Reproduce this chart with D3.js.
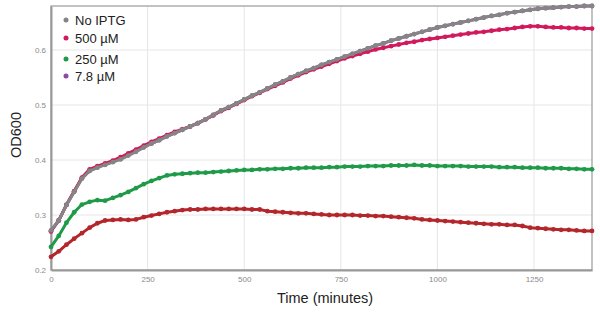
<!DOCTYPE html>
<html>
<head>
<meta charset="utf-8">
<script src="https://cdn.jsdelivr.net/npm/d3@7"></script>
<style>
  body { margin: 0; background: #fff; }
  text { font-family: "Liberation Sans", Arial, sans-serif; }
</style>
</head>
<body>
<div id="root"></div>
<script>
// sample times (minutes)
const times = [0,20,40,60,80,100,120,140,160,180,200,220,240,260,280,300,320,340,360,380,
  400,420,440,460,480,500,520,540,560,580,600,620,640,660,680,700,720,740,760,780,
  800,820,840,860,880,900,920,940,960,980,1000,1020,1040,1060,1080,1100,1120,1140,1160,1180,
  1200,1220,1240,1260,1280,1300,1320,1340,1360,1380,1400];

// OD600 readings
const noIptg = [0.272,0.290,0.318,0.342,0.366,0.380,0.386,0.391,0.396,0.401,0.408,0.415,0.423,0.430,0.436,0.443,0.449,0.455,0.461,0.467,
  0.474,0.482,0.490,0.496,0.503,0.510,0.517,0.523,0.530,0.537,0.543,0.550,0.556,0.562,0.567,0.573,0.578,0.583,0.588,0.593,
  0.598,0.603,0.608,0.612,0.617,0.621,0.625,0.629,0.633,0.637,0.641,0.644,0.647,0.650,0.653,0.656,0.659,0.662,0.664,0.667,
  0.669,0.671,0.673,0.675,0.676,0.677,0.678,0.679,0.679,0.680,0.680];
const uM500 = [0.270,0.290,0.318,0.343,0.368,0.383,0.389,0.394,0.399,0.405,0.412,0.419,0.426,0.433,0.439,0.445,0.451,0.456,0.461,0.467,
  0.474,0.481,0.489,0.495,0.502,0.509,0.516,0.522,0.529,0.535,0.541,0.548,0.554,0.560,0.565,0.570,0.575,0.580,0.585,0.589,
  0.593,0.597,0.601,0.604,0.607,0.610,0.613,0.615,0.618,0.620,0.622,0.624,0.626,0.628,0.630,0.632,0.633,0.635,0.637,0.638,
  0.640,0.642,0.643,0.643,0.642,0.641,0.641,0.640,0.640,0.639,0.639];
const uM250 = [0.242,0.262,0.286,0.305,0.319,0.324,0.327,0.326,0.331,0.336,0.342,0.349,0.356,0.362,0.367,0.372,0.374,0.375,0.376,0.377,
  0.377,0.378,0.379,0.380,0.381,0.382,0.382,0.383,0.383,0.384,0.384,0.385,0.385,0.386,0.386,0.386,0.387,0.387,0.388,0.388,
  0.388,0.389,0.389,0.389,0.390,0.390,0.390,0.391,0.390,0.390,0.389,0.389,0.389,0.389,0.388,0.388,0.388,0.388,0.387,0.387,
  0.387,0.386,0.386,0.386,0.385,0.385,0.385,0.384,0.384,0.383,0.383];
const uM7_8 = [0.271,0.290,0.319,0.343,0.367,0.381,0.387,0.392,0.397,0.402,0.409,0.416,0.423,0.430,0.436,0.443,0.449,0.455,0.461,0.467,
  0.474,0.482,0.490,0.496,0.503,0.510,0.517,0.523,0.530,0.537,0.543,0.550,0.556,0.562,0.567,0.573,0.578,0.583,0.588,0.593,
  0.598,0.603,0.608,0.612,0.617,0.621,0.625,0.629,0.633,0.637,0.641,0.644,0.647,0.650,0.653,0.656,0.659,0.662,0.664,0.667,
  0.669,0.671,0.673,0.675,0.676,0.677,0.678,0.679,0.679,0.680,0.680];
const unlabeled = [0.224,0.234,0.246,0.257,0.267,0.277,0.285,0.290,0.291,0.292,0.291,0.292,0.296,0.299,0.302,0.305,0.307,0.309,0.310,0.310,
  0.311,0.311,0.311,0.311,0.311,0.311,0.310,0.310,0.307,0.306,0.305,0.304,0.303,0.303,0.302,0.301,0.300,0.300,0.300,0.300,
  0.299,0.299,0.298,0.298,0.297,0.296,0.295,0.294,0.292,0.291,0.290,0.289,0.288,0.287,0.286,0.285,0.284,0.283,0.283,0.282,
  0.282,0.280,0.277,0.276,0.275,0.274,0.273,0.273,0.272,0.271,0.271];

const xTicks = [0, 250, 500, 750, 1000, 1250];
const yTicks = [0.2, 0.3, 0.4, 0.5, 0.6];

// drawing order: bottom first
const series = [
    {name: null, color: '#b3262b', values: unlabeled},
    {name: '250 µM', color: '#1f9a48', values: uM250},
    {name: '7.8 µM', color: '#8e4a9e', values: uM7_8},
    {name: '500 µM', color: '#d11a5c', values: uM500},
    {name: 'No IPTG', color: '#858585', values: noIptg},
]
const legendItems = [
    {name: 'No IPTG', color: '#858585', y: 20},
    {name: '500 µM', color: '#d11a5c', y: 38},
    {name: '250 µM', color: '#1f9a48', y: 59},
    {name: '7.8 µM', color: '#8e4a9e', y: 76},
]

const width = 600, height = 313;
const x = d3.scaleLinear().domain([0, 1400]).range([51, 592]);
const y = d3.scaleLinear().domain([0.2, 0.68]).range([270, 6]);

const svg = d3.select('#root').append('svg')
    .attr('width', width)
    .attr('height', height)

// gridlines
svg.append('g').selectAll('line.vg')
    .data(xTicks.slice(1))
    .enter().append('line')
    .attr('x1', d => x(d)).attr('x2', d => x(d))
    .attr('y1', y.range()[1]).attr('y2', y.range()[0])
    .style('stroke', '#e6e6e6')
svg.append('g').selectAll('line.hg')
    .data(yTicks.slice(1))
    .enter().append('line')
    .attr('x1', x.range()[0]).attr('x2', x.range()[1])
    .attr('y1', d => y(d)).attr('y2', d => y(d))
    .style('stroke', '#e6e6e6')

// frame
svg.append('rect')
    .attr('x', x.range()[0]).attr('y', y.range()[1])
    .attr('width', x.range()[1] - x.range()[0])
    .attr('height', y.range()[0] - y.range()[1])
    .style('fill', 'none')
    .style('stroke', '#9a9a9a')
    .style('stroke-width', 1.2)

// axes
const xAxis = svg.append('g')
    .attr('transform', `translate(0,${y.range()[0]})`)
    .call(d3.axisBottom(x).tickValues(xTicks).tickSize(0).tickPadding(6).tickFormat(d3.format('d')))
const yAxis = svg.append('g')
    .attr('transform', `translate(${x.range()[0]},0)`)
    .call(d3.axisLeft(y).tickValues(yTicks).tickSize(0).tickPadding(5).tickFormat(d3.format('.1f')))
;[xAxis, yAxis].forEach(a => {
    a.select('.domain').style('stroke', '#999').style('stroke-width', 2)
    a.selectAll('text').style('fill', '#8a8a8a').style('font-size', '8px')
})

// series
const line = d3.line()
    .x((d, i) => x(times[i]))
    .y(d => y(d))

series.forEach(s => {
    const g = svg.append('g')
    g.append('path')
        .attr('d', line(s.values))
        .style('fill', 'none')
        .style('stroke', s.color)
        .style('stroke-width', 3)
        .style('stroke-linejoin', 'round')
    g.selectAll('circle')
        .data(s.values)
        .enter().append('circle')
        .attr('cx', (d, i) => x(times[i]))
        .attr('cy', d => y(d))
        .attr('r', 2.4)
        .style('fill', s.color)
})

// legend
const legend = svg.append('g')
legend.selectAll('circle')
    .data(legendItems)
    .enter().append('circle')
    .attr('cx', 66).attr('cy', d => d.y)
    .attr('r', 2.5)
    .style('fill', d => d.color)
legend.selectAll('text')
    .data(legendItems)
    .enter().append('text')
    .attr('x', 75).attr('y', d => d.y)
    .attr('dy', '0.35em')
    .style('font-size', '13px')
    .style('fill', '#222')
    .text(d => d.name)

// axis titles
svg.append('text')
    .attr('x', 325).attr('y', 303)
    .style('text-anchor', 'middle')
    .style('font-size', '14.5px')
    .style('fill', '#222')
    .text('Time (minutes)')
svg.append('text')
    .attr('transform', 'translate(21,135) rotate(-90)')
    .style('text-anchor', 'middle')
    .style('font-size', '14.5px')
    .style('fill', '#222')
    .text('OD600')
</script>
</body>
</html>
